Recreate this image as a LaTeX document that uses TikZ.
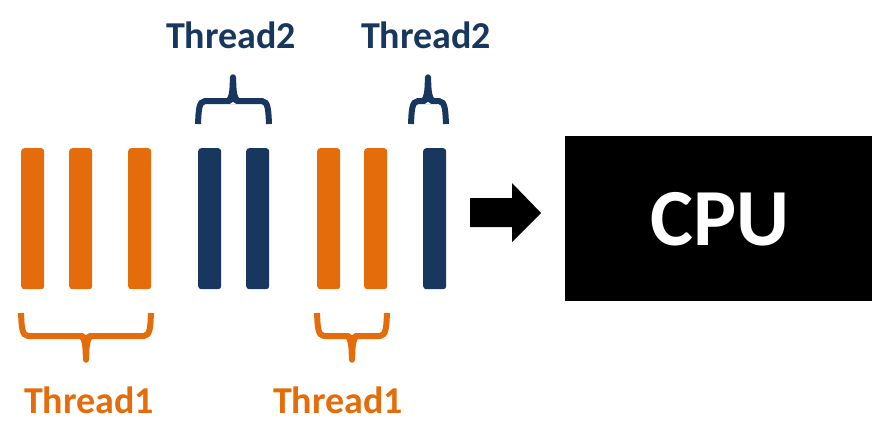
\documentclass[tikz,border=0pt]{standalone}
\usepackage{fontspec}
\setmainfont{Carlito}
\definecolor{threadorange}{HTML}{E46C0A}
\definecolor{threadnavy}{HTML}{17375E}
\tikzset{
  barbox/.style={rectangle,rounded corners=3pt,inner sep=0pt,minimum height=141pt,minimum width=23pt,anchor=north west},
  orangebar/.style={barbox,fill=threadorange},
  navybar/.style={barbox,fill=threadnavy},
  threadlabel/.style={anchor=base,inner sep=0pt,font=\fontsize{38}{38}\selectfont\bfseries},
  cpubox/.style={rectangle,fill=black,inner sep=0pt,anchor=north west,minimum width=307pt,minimum height=165pt},
}
% #1 colour, #2 left x, #3 centre x, #4 right x, #5 open-end y, #6 direction (+1 down, -1 up)
\newcommand{\groupbrace}[6]{%
  \begin{scope}[shift={(0,#5)},yscale=#6]
    \draw[#1,line width=6pt]
      (#2,0) .. controls (#2+0.6,12) and (#2+0.6,23) .. (#2+7,23)
      -- (#4-7,23) .. controls (#4-0.6,23) and (#4-0.6,12) .. (#4,0);
    \fill[#1] (#3-9,24) .. controls (#3-4,25) and (#3-3.2,33) .. (#3-3.2,46)
      .. controls (#3-3.2,51) and (#3+3.2,51) .. (#3+3.2,46)
      .. controls (#3+3.2,33) and (#3+4,25) .. (#3+9,24) -- cycle;
    \fill[white] (#3-3.5,19.8) -- (#3+3.5,19.8) -- (#3,22) -- cycle;
  \end{scope}}
\begin{document}
\begin{tikzpicture}[x=1pt,y=-1pt]
  \useasboundingbox (0,0) rectangle (873,434);
  \node[orangebar] (o1) at (21,148) {};
  \node[orangebar] (o2) at (69,148) {};
  \node[orangebar] (o3) at (128,148) {};
  \node[navybar] (n1) at (198,148) {};
  \node[navybar] (n2) at (246,148) {};
  \node[orangebar] (o4) at (317,148) {};
  \node[orangebar] (o5) at (364,148) {};
  \node[navybar] (n3) at (423,148) {};

  \groupbrace{threadorange}{21}{86}{151}{313}{1}
  \groupbrace{threadorange}{317}{352}{387}{313}{1}
  \groupbrace{threadnavy}{198}{233}{269}{124}{-1}
  \groupbrace{threadnavy}{411}{428}{446}{124}{-1}

  \node[threadlabel,text=threadorange] (t1a) at (89,413) {Thread1};
  \node[threadlabel,text=threadorange] (t1b) at (338,413) {Thread1};
  \node[threadlabel,text=threadnavy] (t2a) at (231,48) {Thread2};
  \node[threadlabel,text=threadnavy] (t2b) at (426,48) {Thread2};

  \fill[black] (470,198) -- (512,198) -- (512,183) -- (541,213) -- (512,242) -- (512,227) -- (470,227) -- cycle;

  \node[cpubox] (cpu) at (565,136) {};
  \node[anchor=base,inner sep=0pt,text=white,font=\fontsize{81}{81}\selectfont\bfseries] (cpulabel) at (720,245) {CPU};
\end{tikzpicture}
\end{document}
